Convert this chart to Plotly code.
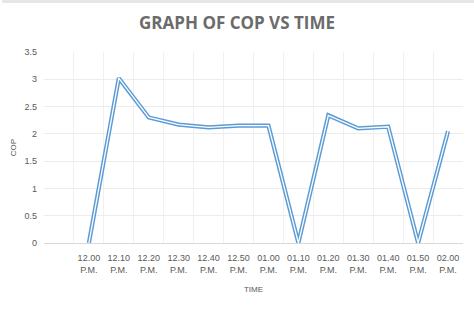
import plotly.graph_objects as go

times = ["12.00", "12.10", "12.20", "12.30", "12.40", "12.50", "01.00",
         "01.10", "01.20", "01.30", "01.40", "01.50", "02.00"]
cop = [0, 3.02, 2.30, 2.17, 2.12, 2.15, 2.15, 0, 2.34, 2.10, 2.13, 0, 2.05]

labels = [t + "<br>P.M." for t in times]
xpos = list(range(1, len(times) + 1))  # slot 0 is an empty category

fig = go.Figure()
fig.add_trace(go.Scatter(x=xpos, y=cop, mode="lines",
                         line=dict(color="#5b9bd5", width=4.2),
                         hoverinfo="skip", showlegend=False))
fig.add_trace(go.Scatter(x=xpos, y=cop, mode="lines",
                         line=dict(color="white", width=1.3),
                         showlegend=False))

fig.update_layout(
    width=474, height=310,
    margin=dict(l=44, r=11, t=52, b=67),
    paper_bgcolor="white", plot_bgcolor="white",
    title=dict(text="<b>GRAPH OF COP VS TIME</b>", x=0.5, xanchor="center",
               y=0.925, yanchor="middle",
               font=dict(family="Open Sans", size=17, color="#6b6b6b")),
    font=dict(family="Liberation Sans", size=9, color="#595959"),
    xaxis=dict(range=[-0.5, len(times) + 0.5], tickmode="array",
               tickvals=xpos, ticktext=labels, showgrid=False,
               zeroline=False, showline=True, linecolor="#d9d9d9",
               ticks="", ticklabelstandoff=6,
               tickfont=dict(size=9, color="#595959"),
               minor=dict(tickmode="array",
                          tickvals=[k - 0.5 for k in range(0, len(times) + 2)],
                          showgrid=True, gridcolor="#f0f0f0", ticks=""),
               title=dict(text="TIME", font=dict(size=8, color="#595959"),
                          standoff=12)),
    yaxis=dict(range=[0, 3.5], dtick=0.5, showgrid=True, gridcolor="#ececec",
               zeroline=False, showline=False, ticks="", ticklabelstandoff=6,
               tickfont=dict(size=9, color="#595959"),
               title=dict(text="COP", font=dict(size=8, color="#595959"),
                          standoff=6)),
)
fig.add_shape(type="rect", xref="paper", yref="paper", x0=-0.1, x1=1.1,
              y0=1.2565, y1=1.35, line_width=0, fillcolor="#e6e6e6")
fig.write_html("out.html")
